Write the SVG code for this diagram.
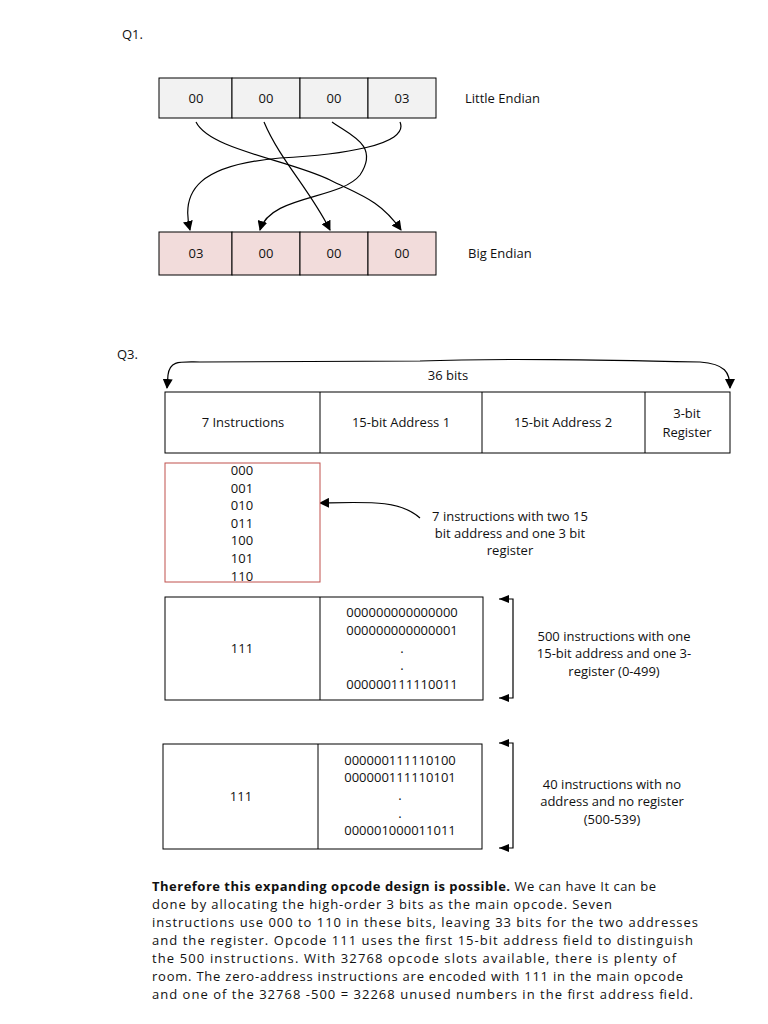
<svg xmlns="http://www.w3.org/2000/svg" width="768" height="1024" viewBox="0 0 768 1024">
<defs>
<marker id="ah" markerWidth="10" markerHeight="10" refX="9" refY="5" orient="auto" markerUnits="userSpaceOnUse"><path d="M0,0 L10,5 L0,10 z" fill="#000"/></marker>
</defs>
<style>
text{font-family:"Open Sans","Liberation Sans",sans-serif;font-size:13px;fill:#111}
.c{text-anchor:middle}
.b{fill:none;stroke:#000;stroke-width:1}
.le{fill:#f2f2f2;stroke:#000}
.be{fill:#f2dcdb;stroke:#000}
.w{fill:#fff;stroke:#000}
.ln{fill:none;stroke:#000;stroke-width:1.2}
</style>
<rect width="768" height="1024" fill="#fff"/>
<text x="122" y="39">Q1.</text>
<g id="little">
<rect class="le" x="159" y="78" width="73" height="40"/><rect class="le" x="232" y="78" width="68" height="40"/><rect class="le" x="300" y="78" width="68" height="40"/><rect class="le" x="368" y="78" width="68" height="40"/>
<text class="c" x="196" y="103">00</text><text class="c" x="266" y="103">00</text><text class="c" x="334" y="103">00</text><text class="c" x="402" y="103">03</text>
<text x="465" y="103">Little Endian</text>
</g>
<g id="big">
<rect class="be" x="159" y="232" width="73" height="43"/><rect class="be" x="232" y="232" width="68" height="43"/><rect class="be" x="300" y="232" width="68" height="43"/><rect class="be" x="368" y="232" width="68" height="43"/>
<text class="c" x="196" y="258">03</text><text class="c" x="266" y="258">00</text><text class="c" x="334" y="258">00</text><text class="c" x="402" y="258">00</text>
<text x="468" y="258">Big Endian</text>
</g>
<g id="connectors">
<path class="ln" marker-end="url(#ah)" d="M196,122 C210,150 290,160 330,180 C360,195 380,200 401,230"/>
<path class="ln" marker-end="url(#ah)" d="M264,122 C280,160 310,190 330,230"/>
<path class="ln" marker-end="url(#ah)" d="M332,122 C350,135 380,145 360,175 C340,200 270,195 260,230"/>
<path class="ln" marker-end="url(#ah)" d="M400,122 C410,145 340,155 280,158 C200,165 180,190 190,230"/>
<path class="ln" marker-end="url(#ah)" d="M168,375 C170,360 180,362 200,362 L420,361 C500,358 600,360 700,362 C725,364 730,372 730,388"/>
<path class="ln" d="M168,375 L167,388" marker-end="url(#ah)"/>
<path class="ln" marker-end="url(#ah)" d="M420,518 C400,500 370,502 320,503"/>
<path class="ln" d="M499,599 L513,599 L513,698 L499,698"/>
<path d="M499,599 l10,-4 l0,8 z M499,698 l10,-4 l0,8 z" fill="#000"/>
<path class="ln" d="M499,743 L513,743 L513,848 L499,848"/>
<path d="M499,743 l10,-4 l0,8 z M499,848 l10,-4 l0,8 z" fill="#000"/>
</g>
<text x="117" y="359">Q3.</text>
<text class="c" x="448" y="380">36 bits</text>
<g id="format">
<rect class="w" x="165" y="392" width="565" height="61"/>
<line class="b" x1="320" y1="392" x2="320" y2="453"/><line class="b" x1="482" y1="392" x2="482" y2="453"/><line class="b" x1="645" y1="392" x2="645" y2="453"/>
<text class="c" x="243" y="427">7 Instructions</text><text class="c" x="401" y="427">15-bit Address 1</text><text class="c" x="563" y="427">15-bit Address 2</text>
<text class="c" x="687" y="418">3-bit</text><text class="c" x="687" y="437">Register</text>
</g>
<g id="ops7">
<rect x="165" y="463" width="155" height="119" fill="#fff" stroke="#c0504d"/>
<text class="c" x="242" y="475">000</text><text class="c" x="242" y="493">001</text><text class="c" x="242" y="510">010</text><text class="c" x="242" y="528">011</text><text class="c" x="242" y="545">100</text><text class="c" x="242" y="563">101</text><text class="c" x="242" y="581">110</text>
<text class="c" x="510" y="521">7 instructions with two 15</text><text class="c" x="510" y="538">bit address and one 3 bit</text><text class="c" x="510" y="555">register</text>
</g>
<g id="ops500">
<rect class="w" x="165" y="597" width="318" height="103"/><line class="b" x1="320" y1="597" x2="320" y2="700"/>
<text class="c" x="242" y="653">111</text>
<text class="c" x="402" y="617">000000000000000</text><text class="c" x="402" y="635">000000000000001</text><text class="c" x="402" y="653">.</text><text class="c" x="402" y="670">.</text><text class="c" x="402" y="689">000000111110011</text>
<text class="c" x="614" y="641">500 instructions with one</text><text class="c" x="614" y="658">15-bit address and one 3-</text><text class="c" x="614" y="676">register (0-499)</text>
</g>
<g id="ops40">
<rect class="w" x="163" y="744" width="319" height="105"/><line class="b" x1="318" y1="744" x2="318" y2="849"/>
<text class="c" x="241" y="801">111</text>
<text class="c" x="400" y="765">000000111110100</text><text class="c" x="400" y="782">000000111110101</text><text class="c" x="400" y="800">.</text><text class="c" x="400" y="818">.</text><text class="c" x="400" y="835">000001000011011</text>
<text class="c" x="612" y="789">40 instructions with no</text><text class="c" x="612" y="806">address and no register</text><text class="c" x="612" y="824">(500-539)</text>
</g>
<g id="para">
<text x="152" y="891" textLength="504" lengthAdjust="spacing"><tspan font-weight="bold">Therefore this expanding opcode design is possible.</tspan> We can have It can be</text>
<text x="152" y="909" textLength="460" lengthAdjust="spacing">done by allocating the high-order 3 bits as the main opcode. Seven</text>
<text x="152" y="927" textLength="546" lengthAdjust="spacing">instructions use 000 to 110 in these bits, leaving 33 bits for the two addresses</text>
<text x="152" y="945" textLength="541" lengthAdjust="spacing">and the register. Opcode 111 uses the first 15-bit address field to distinguish</text>
<text x="152" y="963" textLength="524" lengthAdjust="spacing">the 500 instructions. With 32768 opcode slots available, there is plenty of</text>
<text x="152" y="981" textLength="531" lengthAdjust="spacing">room. The zero-address instructions are encoded with 111 in the main opcode</text>
<text x="152" y="999" textLength="541" lengthAdjust="spacing">and one of the 32768 -500 = 32268 unused numbers in the first address field.</text>
</g>
</svg>
